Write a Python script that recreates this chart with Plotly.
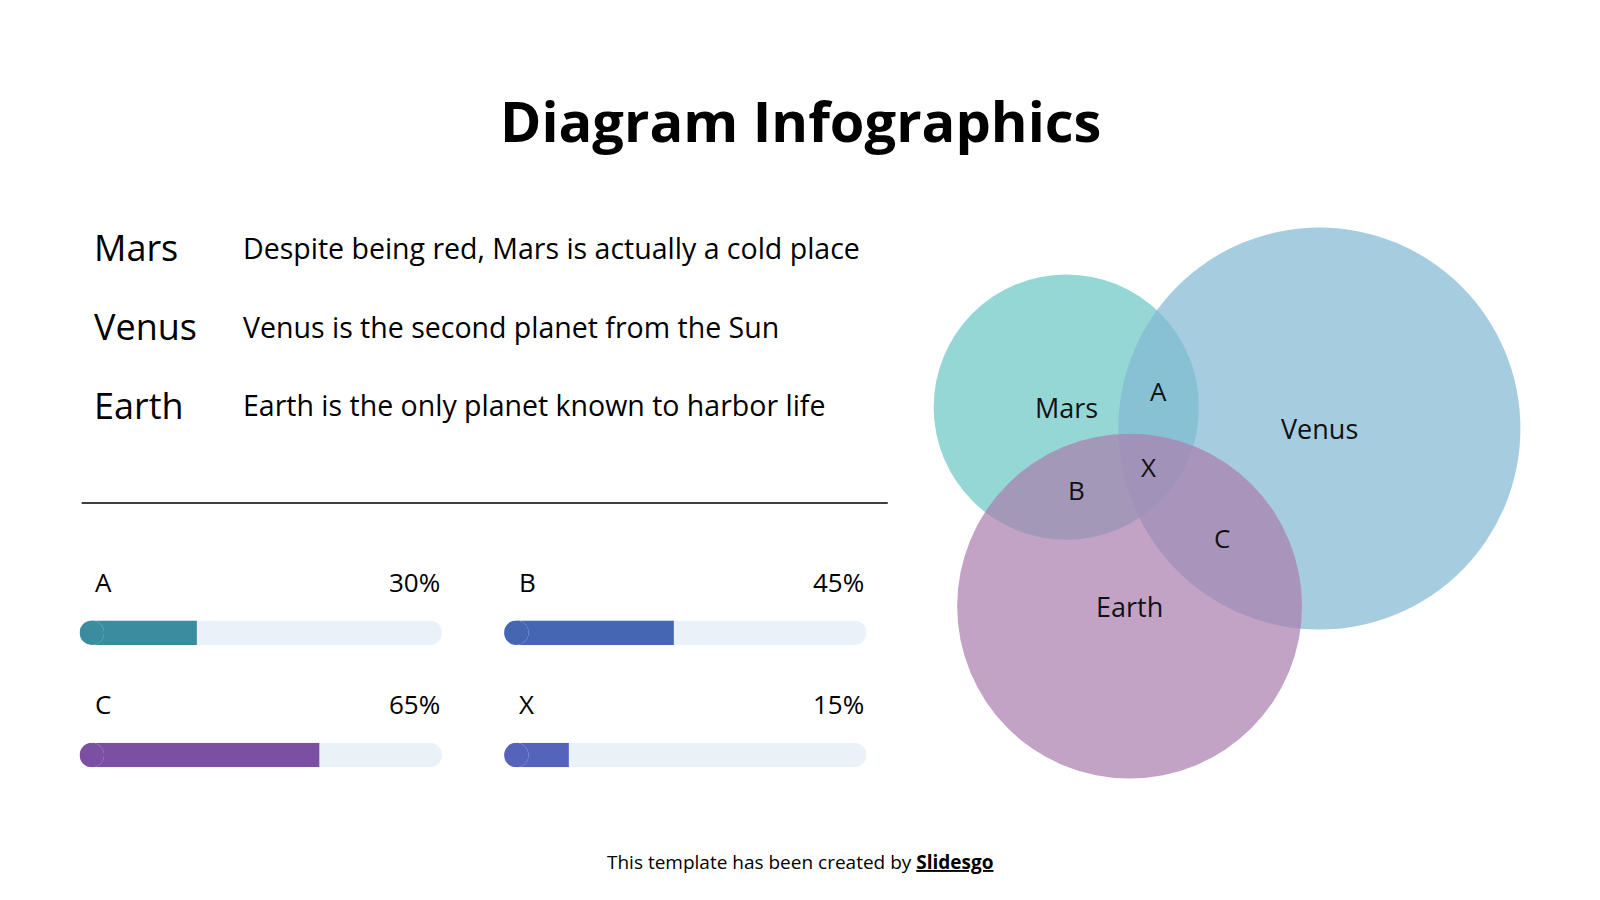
import plotly.graph_objects as go

W, H = 1568, 882  # reference pixel frame

planets = ["Mars", "Venus", "Earth"]
descriptions = ["Despite being red, Mars is actually a cold place",
                "Venus is the second planet from the Sun",
                "Earth is the only planet known to harbor life"]
bar_labels = ["A", "B", "C", "X"]
bar_values = [30, 45, 65, 15]
bar_colors = ["#3B8C9E", "#4567B2", "#7B4FA2", "#5564BA"]
track_color = "#EAF1F9"

# venn circles: center x, center y, radius (pixel frame)
venn_names = ["Mars", "Venus", "Earth"]
venn_cx = [1045, 1293, 1107]
venn_cy = [399, 420, 594]
venn_r = [130, 197, 169]
venn_colors = ["#6CC8C3", "#82B8D3", "#AA80AE"]
venn_label_pos = [(1045, 399), (1293, 420), (1107, 594)]
region_labels = ["A", "B", "C", "X"]
region_pos = [(1135, 383), (1055, 480), (1198, 527), (1126, 458)]

FONT = "Open Sans"
fig = go.Figure()
layout = dict(
    width=1600, height=900,
    paper_bgcolor="white", plot_bgcolor="white", margin=dict(l=0, r=0, t=0, b=0),
    showlegend=False, barmode="overlay",
    xaxis=dict(domain=[0, 1], range=[0, W], visible=False, fixedrange=True),
    yaxis=dict(domain=[0, 1], range=[H, 0], visible=False, fixedrange=True),
)

shapes = []
for cx, cy, r, c in zip(venn_cx, venn_cy, venn_r, venn_colors):
    shapes.append(dict(type="circle", xref="x", yref="y", x0=cx - r, x1=cx + r,
                       y0=cy - r, y1=cy + r, fillcolor=c, opacity=0.72,
                       line=dict(width=0), layer="below"))
shapes.append(dict(type="line", xref="x", yref="y", x0=80, x1=870, y0=493, y1=493,
                   line=dict(color="black", width=1.5)))

ann = [dict(text="<b>Diagram Infographics</b>", x=784, y=118, xref="x", yref="y",
            showarrow=False, font=dict(family=FONT, size=56, color="black"))]
for i, (p, d) in enumerate(zip(planets, descriptions)):
    y = 243 + i * 77
    ann.append(dict(text=p, x=90, y=y, xref="x", yref="y", xanchor="left", showarrow=False,
                    font=dict(family=FONT, size=36, color="black")))
    ann.append(dict(text=d, x=236, y=y, xref="x", yref="y", xanchor="left", showarrow=False,
                    font=dict(family=FONT, size=28.5, color="black")))
for name, (x, y) in zip(venn_names, venn_label_pos):
    ann.append(dict(text=name, x=x, y=y, xref="x", yref="y", showarrow=False,
                    font=dict(family=FONT, size=27, color="#111")))
for name, (x, y) in zip(region_labels, region_pos):
    ann.append(dict(text=name, x=x, y=y, xref="x", yref="y", showarrow=False,
                    font=dict(family=FONT, size=26, color="#111")))
ann.append(dict(text="This template has been created by <b><u>Slidesgo</u></b>", x=784, y=845,
                xref="x", yref="y", showarrow=False, font=dict(family=FONT, size=19, color="black")))

# progress bars, each on its own small axis pair; round left cap drawn as a marker
PAD = 3.5
for i, (lab, val, col) in enumerate(zip(bar_labels, bar_values, bar_colors)):
    col_i, row_i = i % 2, i // 2
    x0 = 78 + col_i * 416
    x1 = x0 + 367
    ty = 608 + row_i * 120
    n = i + 2
    layout[f"xaxis{n}"] = dict(domain=[x0 / W, x1 / W], range=[-PAD, 100 + PAD],
                               visible=False, fixedrange=True)
    layout[f"yaxis{n}"] = dict(domain=[1 - (ty + 24) / H, 1 - ty / H], range=[-0.5, 0.5],
                               visible=False, fixedrange=True)
    for v, c in [(100, track_color), (val, col)]:
        fig.add_trace(go.Bar(x=[v], y=[0], orientation="h", width=1, marker=dict(
            color=c, cornerradius="50%", line=dict(width=0)), xaxis=f"x{n}", yaxis=f"y{n}",
            hoverinfo="skip"))
        fig.add_trace(go.Scatter(x=[0], y=[0], mode="markers", marker=dict(
            color=c, size=24.5, line=dict(width=0)), xaxis=f"x{n}", yaxis=f"y{n}",
            hoverinfo="skip"))
    ann.append(dict(text=lab, x=x0 + 13, y=ty - 38, xref="x", yref="y", xanchor="left",
                    showarrow=False, font=dict(family=FONT, size=26, color="black")))
    ann.append(dict(text=f"{val}%", x=x1 - 12, y=ty - 38, xref="x", yref="y", xanchor="right",
                    showarrow=False, font=dict(family=FONT, size=26, color="black")))

fig.update_layout(**layout, shapes=shapes, annotations=ann)
fig.write_html("out.html", config={"displayModeBar": False},
               post_script="document.body.style.margin='0';")
